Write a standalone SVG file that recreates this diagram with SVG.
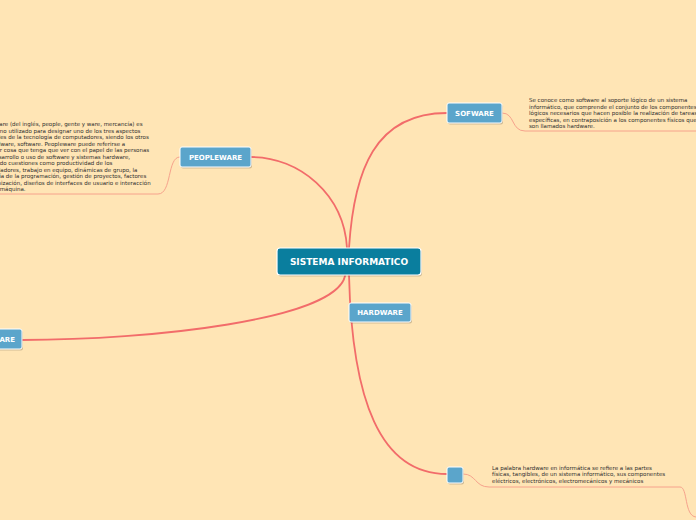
<svg xmlns="http://www.w3.org/2000/svg" width="696" height="520" viewBox="0 0 696 520">
<style>
.bg{fill:#FFE5B5}
.main{fill:none;stroke:#F26C6A;stroke-width:1.8;stroke-linecap:round}
.thin{fill:none;stroke:#F6A28C;stroke-width:1}
.node{fill:#5BA5CB;stroke:#FFFFFF;stroke-width:1}
.root{fill:#0A7E9E;stroke:#FFFFFF;stroke-width:1.2}
.shadow{fill:#000000;opacity:0.18}
.lbl{font-family:"DejaVu Sans",Verdana,sans-serif;font-weight:bold;fill:#FFFFFF;text-anchor:middle}
.note{font-family:"DejaVu Sans",Verdana,sans-serif;font-size:5.5px;fill:#2E2E2E}
</style>
<rect class="bg" x="0" y="0" width="696" height="520"/>
<g id="connectors">
<path class="main" d="M349 248 C 354 170 375 113 447 113"/>
<path class="main" d="M347 248 C 344 195 300 157 251 157"/>
<path class="main" d="M345 276 C 335 320 150 340 22 340"/>
<path class="main" d="M349 275 C 352 400 380 474 447 474"/>
<path class="thin" d="M502 113 C 515 113 511 131 525 131 L 696 131"/>
<path class="thin" d="M180 157 C 167 157 172 194 158 194 L 0 194"/>
<path class="thin" d="M463 474 C 476 474 475 487 489 487 L 680 487 C 688 487 684 516 696 517"/>
</g>
<g id="root">
<rect class="shadow" x="278" y="249.5" width="144" height="27" rx="3"/>
<rect class="root" x="277" y="248" width="144" height="27" rx="3"/>
<text class="lbl" x="349" y="265" font-size="9">SISTEMA INFORMATICO</text>
</g>
<g id="sofware">
<rect class="shadow" x="448" y="104.5" width="55" height="20" rx="2"/>
<rect class="node" x="447" y="103" width="55" height="20" rx="2"/>
<text class="lbl" x="474.5" y="115.5" font-size="7">SOFWARE</text>
</g>
<g id="sofware-note">
<text class="note" x="529" y="102">Se conoce como software al soporte lógico de un sistema</text>
<text class="note" x="529" y="108.6">informático, que comprende el conjunto de los componentes</text>
<text class="note" x="529" y="115.2">lógicos necesarios que hacen posible la realización de tareas</text>
<text class="note" x="529" y="121.8">específicas, en contraposición a los componentes físicos que</text>
<text class="note" x="529" y="128.4">son llamados hardware.</text>
</g>
<g id="peopleware">
<rect class="shadow" x="181" y="148.5" width="71" height="20" rx="2"/>
<rect class="node" x="180" y="147" width="71" height="20" rx="2"/>
<text class="lbl" x="215.5" y="159.5" font-size="7">PEOPLEWARE</text>
</g>
<g id="peopleware-note">
<text class="note" x="-23.5" y="126">Peopleware (del inglés, people, gente y ware, mercancía) es</text>
<text class="note" x="-23.5" y="132.5">un término utilizado para designar uno de los tres aspectos</text>
<text class="note" x="-23.5" y="139">principales de la tecnología de computadores, siendo los otros</text>
<text class="note" x="-23.5" y="145.5">dos hardware, software. Peopleware puede referirse a</text>
<text class="note" x="-23.5" y="152">cualquier cosa que tenga que ver con el papel de las personas</text>
<text class="note" x="-23.5" y="158.5">en el desarrollo o uso de software y sistemas hardware,</text>
<text class="note" x="-23.5" y="165">incluyendo cuestiones como productividad de los</text>
<text class="note" x="-23.5" y="171.5">desarrolladores, trabajo en equipo, dinámicas de grupo, la</text>
<text class="note" x="-23.5" y="178">psicología de la programación, gestión de proyectos, factores</text>
<text class="note" x="-23.5" y="184.5">de organización, diseños de interfaces de usuario e interacción</text>
<text class="note" x="-23.5" y="191">hombre-máquina.</text>
</g>
<g id="hardware">
<rect class="shadow" x="350" y="304.5" width="62" height="19" rx="2"/>
<rect class="node" x="349" y="303" width="62" height="19" rx="2"/>
<text class="lbl" x="380" y="315" font-size="7">HARDWARE</text>
</g>
<g id="left-node">
<rect class="shadow" x="-39" y="330.5" width="62" height="20" rx="2"/>
<rect class="node" x="-40" y="329" width="62" height="20" rx="2"/>
<text class="lbl" x="15" y="341.5" font-size="7" style="text-anchor:end">ARE</text>
</g>
<g id="empty-node">
<rect class="shadow" x="448" y="468.5" width="16" height="16" rx="2"/>
<rect class="node" x="447" y="467" width="16" height="16" rx="2"/>
</g>
<g id="hardware-note">
<text class="note" x="492" y="469.5">La palabra hardware en informática se refiere a las partes</text>
<text class="note" x="492" y="476">físicas, tangibles, de un sistema informático, sus componentes</text>
<text class="note" x="492" y="482.5">eléctricos, electrónicos, electromecánicos y mecánicos</text>
</g>
</svg>
